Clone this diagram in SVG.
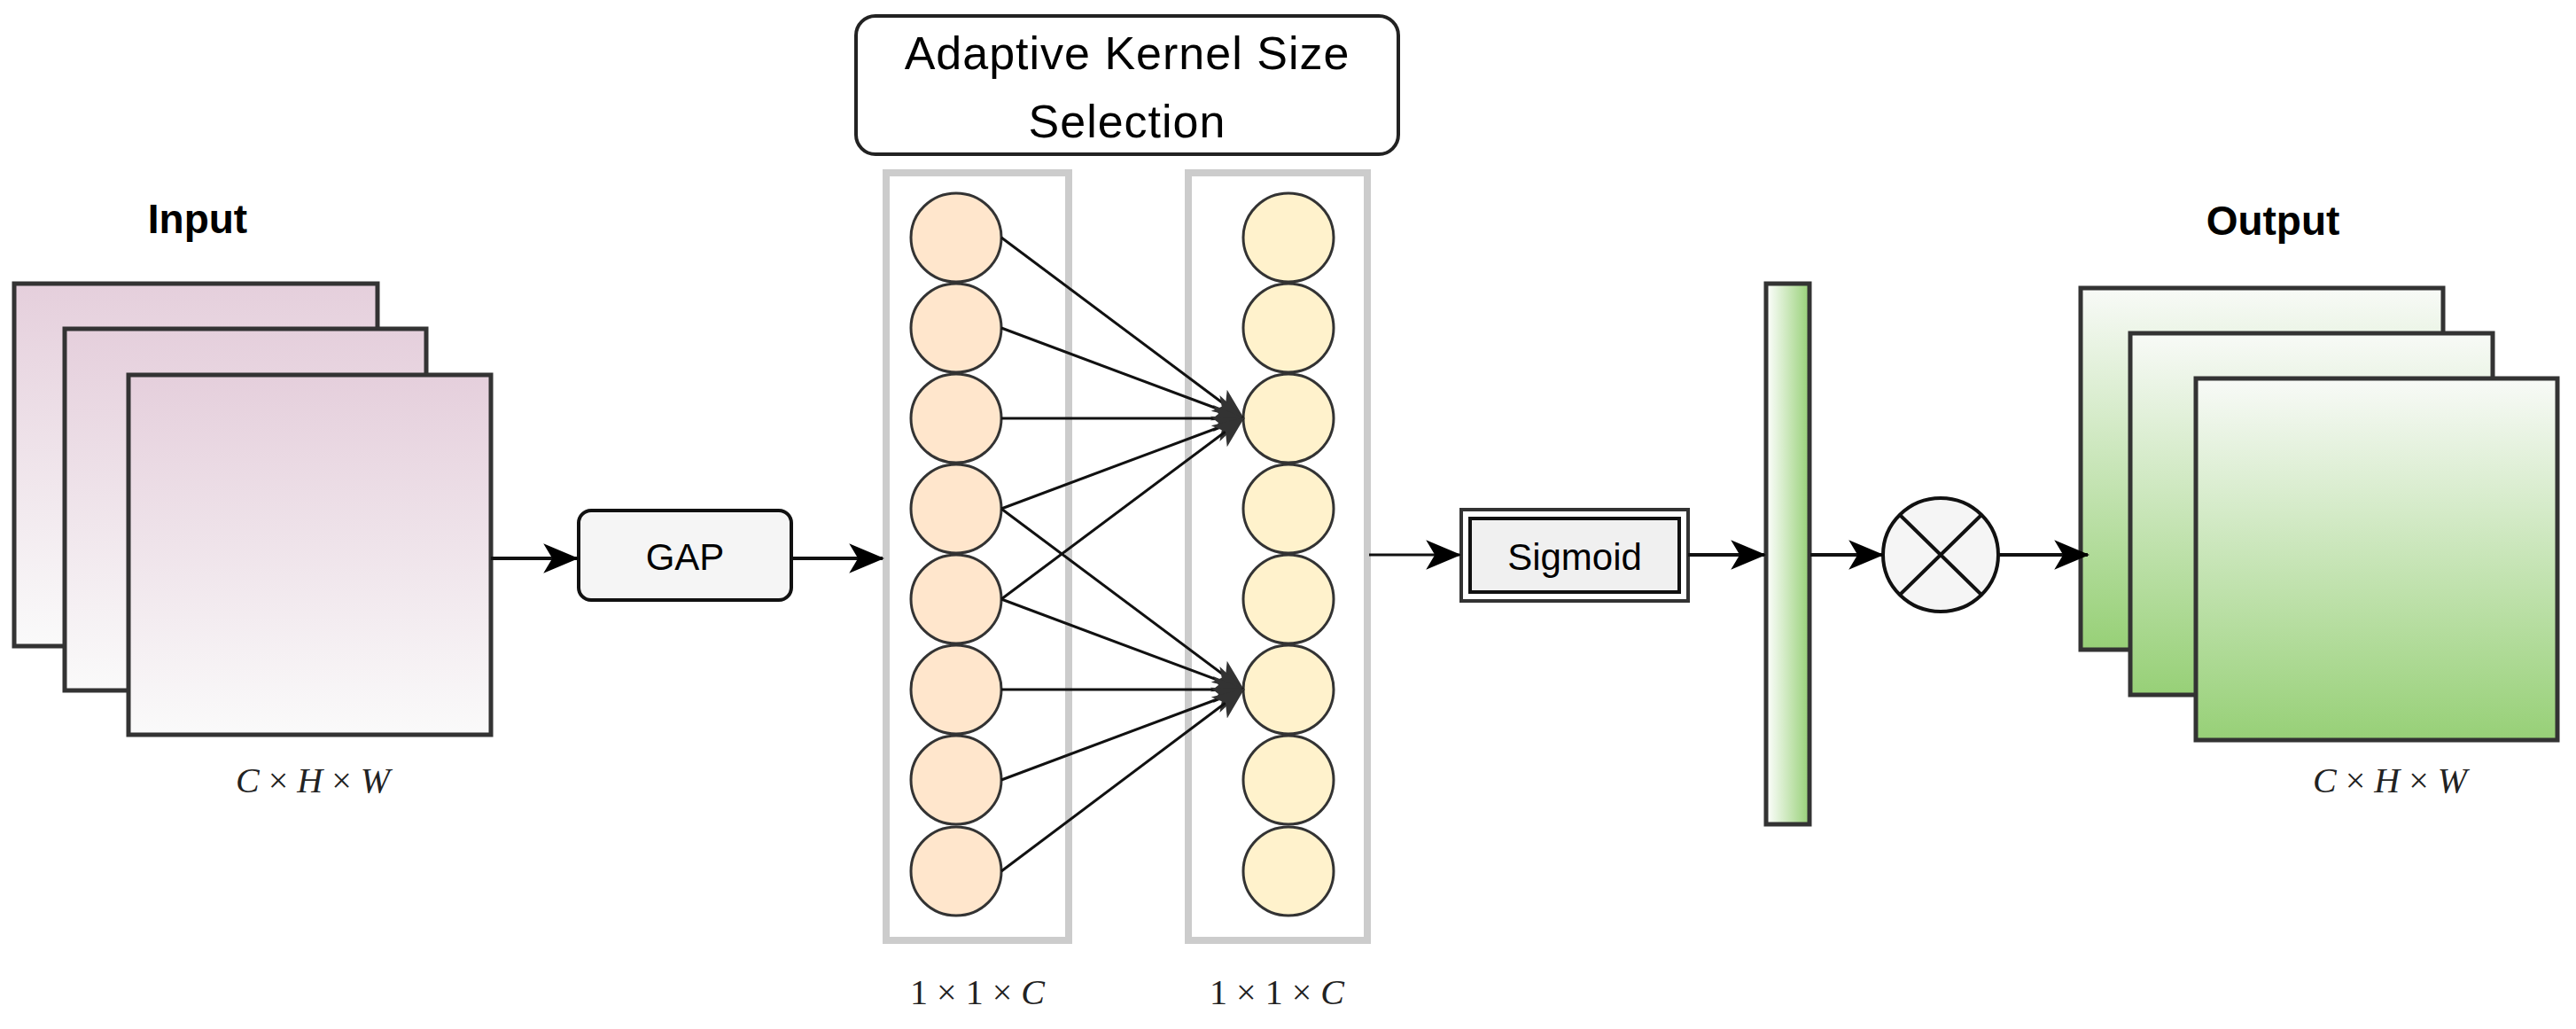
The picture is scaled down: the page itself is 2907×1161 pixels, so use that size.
<svg xmlns="http://www.w3.org/2000/svg" width="2907" height="1161" viewBox="0 0 2907 1161">
<style>
.t{font-family:"Liberation Sans",Arial,sans-serif;fill:#000}
.m{font-family:"Liberation Serif","Times New Roman",serif;font-size:40px;fill:#222}
.fm{stroke:#333;stroke-width:5}
.c1{fill:#ffe6cc;stroke:#333;stroke-width:3}
.c2{fill:#fff2cc;stroke:#333;stroke-width:3}
.ln{stroke:#111;stroke-width:4;fill:none}
.thin{stroke:#111;stroke-width:3;fill:none}
</style>
<defs>
<linearGradient id="gi" x1="0" y1="0" x2="0" y2="1"><stop offset="0" stop-color="#e5cfdc"/><stop offset="1" stop-color="#fafafa"/></linearGradient>
<linearGradient id="go" x1="0" y1="0" x2="0" y2="1"><stop offset="0" stop-color="#f8faf7"/><stop offset="1" stop-color="#97d077"/></linearGradient>
<linearGradient id="gb" x1="0" y1="0" x2="1" y2="0"><stop offset="0" stop-color="#ffffff"/><stop offset="1" stop-color="#97d077"/></linearGradient>
<marker id="a" markerUnits="userSpaceOnUse" markerWidth="40" markerHeight="40" viewBox="0 0 36 30" refX="34" refY="15" orient="auto"><path d="M0,0 L36,15 L0,30 L9,15 z" fill="#000"/></marker>
<marker id="b" markerUnits="userSpaceOnUse" markerWidth="36" markerHeight="36" viewBox="0 0 36 30" refX="34" refY="15" orient="auto"><path d="M0,0 L36,15 L0,30 L9,15 z" fill="#333"/></marker>
</defs>
<rect width="2907" height="1161" fill="#fff"/>
<g id="input">
<text class="t" x="223" y="263" font-size="46" font-weight="bold" text-anchor="middle">Input</text>
<rect class="fm" x="16" y="320" width="410" height="409" fill="url(#gi)"/>
<rect class="fm" x="73" y="371" width="408" height="408" fill="url(#gi)"/>
<rect class="fm" x="145" y="423" width="409" height="406" fill="url(#gi)"/>
<text class="m" x="353" y="894" text-anchor="middle"><tspan font-style="italic">C</tspan> × <tspan font-style="italic">H</tspan>  × <tspan font-style="italic">W</tspan></text>
</g>
<g id="gap">
<rect x="653" y="576" width="240" height="101" rx="14" fill="#f5f5f5" stroke="#111" stroke-width="4"/>
<text class="t" x="773" y="643" font-size="42" fill="#333" text-anchor="middle">GAP</text>
</g>
<g id="aks">
<rect x="966" y="18" width="612" height="156" rx="22" fill="#fff" stroke="#222" stroke-width="4"/>
<text class="t" x="1272" y="78" font-size="52" text-anchor="middle" letter-spacing="1">Adaptive Kernel Size</text>
<text class="t" x="1272" y="155" font-size="52" text-anchor="middle" letter-spacing="1">Selection</text>
</g>
<g id="col1">
<rect x="1000" y="195" width="206" height="866" fill="none" stroke="#ccc" stroke-width="8"/>
<ellipse class="c1" cx="1079" cy="268" rx="51" ry="50"/>
<ellipse class="c1" cx="1079" cy="370" rx="51" ry="50"/>
<ellipse class="c1" cx="1079" cy="472" rx="51" ry="50"/>
<ellipse class="c1" cx="1079" cy="574" rx="51" ry="50"/>
<ellipse class="c1" cx="1079" cy="676" rx="51" ry="50"/>
<ellipse class="c1" cx="1079" cy="778" rx="51" ry="50"/>
<ellipse class="c1" cx="1079" cy="880" rx="51" ry="50"/>
<ellipse class="c1" cx="1079" cy="983" rx="51" ry="50"/>
<text class="m" x="1103" y="1133" text-anchor="middle">1 × 1  × <tspan font-style="italic">C</tspan></text>
</g>
<g id="col2">
<rect x="1341" y="195" width="202" height="866" fill="none" stroke="#ccc" stroke-width="8"/>
<ellipse class="c2" cx="1454" cy="268" rx="51" ry="50"/>
<ellipse class="c2" cx="1454" cy="370" rx="51" ry="50"/>
<ellipse class="c2" cx="1454" cy="472" rx="51" ry="50"/>
<ellipse class="c2" cx="1454" cy="574" rx="51" ry="50"/>
<ellipse class="c2" cx="1454" cy="676" rx="51" ry="50"/>
<ellipse class="c2" cx="1454" cy="778" rx="51" ry="50"/>
<ellipse class="c2" cx="1454" cy="880" rx="51" ry="50"/>
<ellipse class="c2" cx="1454" cy="983" rx="51" ry="50"/>
<text class="m" x="1441" y="1133" text-anchor="middle">1 × 1  × <tspan font-style="italic">C</tspan></text>
</g>
<g id="sigmoid">
<rect x="1649" y="575" width="256" height="103" fill="#fff" stroke="#333" stroke-width="4"/>
<rect x="1659" y="585" width="236" height="83" fill="#f0f0f0" stroke="#111" stroke-width="4"/>
<text class="t" x="1777" y="643" font-size="42" fill="#333" text-anchor="middle">Sigmoid</text>
</g>
<g id="bar">
<rect x="1993" y="320" width="49" height="610" fill="url(#gb)" stroke="#333" stroke-width="5"/>
</g>
<g id="mult">
<ellipse cx="2190" cy="626" rx="65" ry="64" fill="#f5f5f5" stroke="#111" stroke-width="4"/>
<path d="M2144,581 L2236,671 M2236,581 L2144,671" stroke="#111" stroke-width="4"/>
</g>
<g id="output">
<text class="t" x="2565" y="265" font-size="46" font-weight="bold" text-anchor="middle">Output</text>
<rect class="fm" x="2348" y="325" width="409" height="408" fill="url(#go)"/>
<rect class="fm" x="2404" y="376" width="409" height="408" fill="url(#go)"/>
<rect class="fm" x="2478" y="427" width="408" height="408" fill="url(#go)"/>
<text class="m" x="2697" y="894" text-anchor="middle"><tspan font-style="italic">C</tspan> × <tspan font-style="italic">H</tspan>  × <tspan font-style="italic">W</tspan></text>
</g>
<g id="connectors">
<line class="ln" x1="554" y1="630" x2="651" y2="630" marker-end="url(#a)"/>
<line class="ln" x1="893" y1="630" x2="996" y2="630" marker-end="url(#a)"/>
<line class="thin" x1="1130" y1="268" x2="1403" y2="472" marker-end="url(#b)"/>
<line class="thin" x1="1130" y1="370" x2="1403" y2="472" marker-end="url(#b)"/>
<line class="thin" x1="1130" y1="472" x2="1403" y2="472" marker-end="url(#b)"/>
<line class="thin" x1="1130" y1="574" x2="1403" y2="472" marker-end="url(#b)"/>
<line class="thin" x1="1130" y1="676" x2="1403" y2="472" marker-end="url(#b)"/>
<line class="thin" x1="1130" y1="574" x2="1403" y2="778" marker-end="url(#b)"/>
<line class="thin" x1="1130" y1="676" x2="1403" y2="778" marker-end="url(#b)"/>
<line class="thin" x1="1130" y1="778" x2="1403" y2="778" marker-end="url(#b)"/>
<line class="thin" x1="1130" y1="880" x2="1403" y2="778" marker-end="url(#b)"/>
<line class="thin" x1="1130" y1="983" x2="1403" y2="778" marker-end="url(#b)"/>
<line class="thin" x1="1545" y1="626" x2="1647" y2="626" marker-end="url(#a)"/>
<line class="ln" x1="1905" y1="626" x2="1991" y2="626" marker-end="url(#a)"/>
<line class="ln" x1="2043" y1="626" x2="2124" y2="626" marker-end="url(#a)"/>
<line class="ln" x1="2255" y1="626" x2="2356" y2="626" marker-end="url(#a)"/>
</g>
</svg>
